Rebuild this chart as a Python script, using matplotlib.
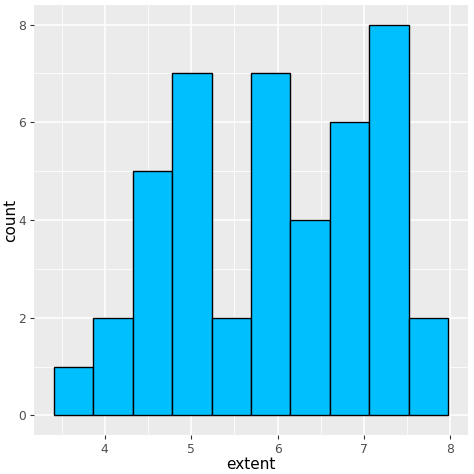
import numpy as np
import matplotlib
matplotlib.use('Agg')
import matplotlib.pyplot as plt
from matplotlib.ticker import MultipleLocator

# histogram
bin_edges = [3.410, 3.867, 4.323, 4.780, 5.236, 5.693, 6.149, 6.606, 7.063, 7.519, 7.976]
counts = [1, 2, 5, 7, 2, 7, 4, 6, 8, 2]
x_ticks = [4, 5, 6, 7, 8]
y_ticks = [0, 2, 4, 6, 8]

fig = plt.figure(figsize=(4.74, 4.74), dpi=100)
ax = fig.add_axes([34 / 474, 1 - 435 / 474, (468 - 34) / 474, (435 - 5) / 474])

lefts = np.array(bin_edges[:-1])
widths = np.diff(bin_edges)
ax.bar(lefts, counts, width=widths, align='edge', color='#00BFFF',
       edgecolor='black', linewidth=1.0, zorder=3)

# ggplot-like panel
ax.set_facecolor('#EBEBEB')
for s in ax.spines.values():
    s.set_visible(False)
span = bin_edges[-1] - bin_edges[0]
ax.set_xlim(bin_edges[0] - 0.05 * span, bin_edges[-1] + 0.05 * span)
ax.set_ylim(-0.05 * max(counts), max(counts) * 1.05)
ax.set_xticks(x_ticks)
ax.set_yticks(y_ticks)
ax.xaxis.set_minor_locator(MultipleLocator(0.5))
ax.yaxis.set_minor_locator(MultipleLocator(1))
ax.grid(which='major', color='white', linewidth=1.1, zorder=0)
ax.grid(which='minor', color='white', linewidth=0.55, zorder=0)
ax.set_axisbelow(True)
ax.tick_params(which='major', length=3, width=0.8, color='#333333',
               labelcolor='#4D4D4D', labelsize=8.8, pad=2.5)
ax.tick_params(which='minor', length=0)

ax.set_xlabel('extent', fontsize=11, color='black', labelpad=1)
ax.set_ylabel('count', fontsize=11, color='black', labelpad=0)

fig.savefig('out.png', dpi=100, facecolor='white')
